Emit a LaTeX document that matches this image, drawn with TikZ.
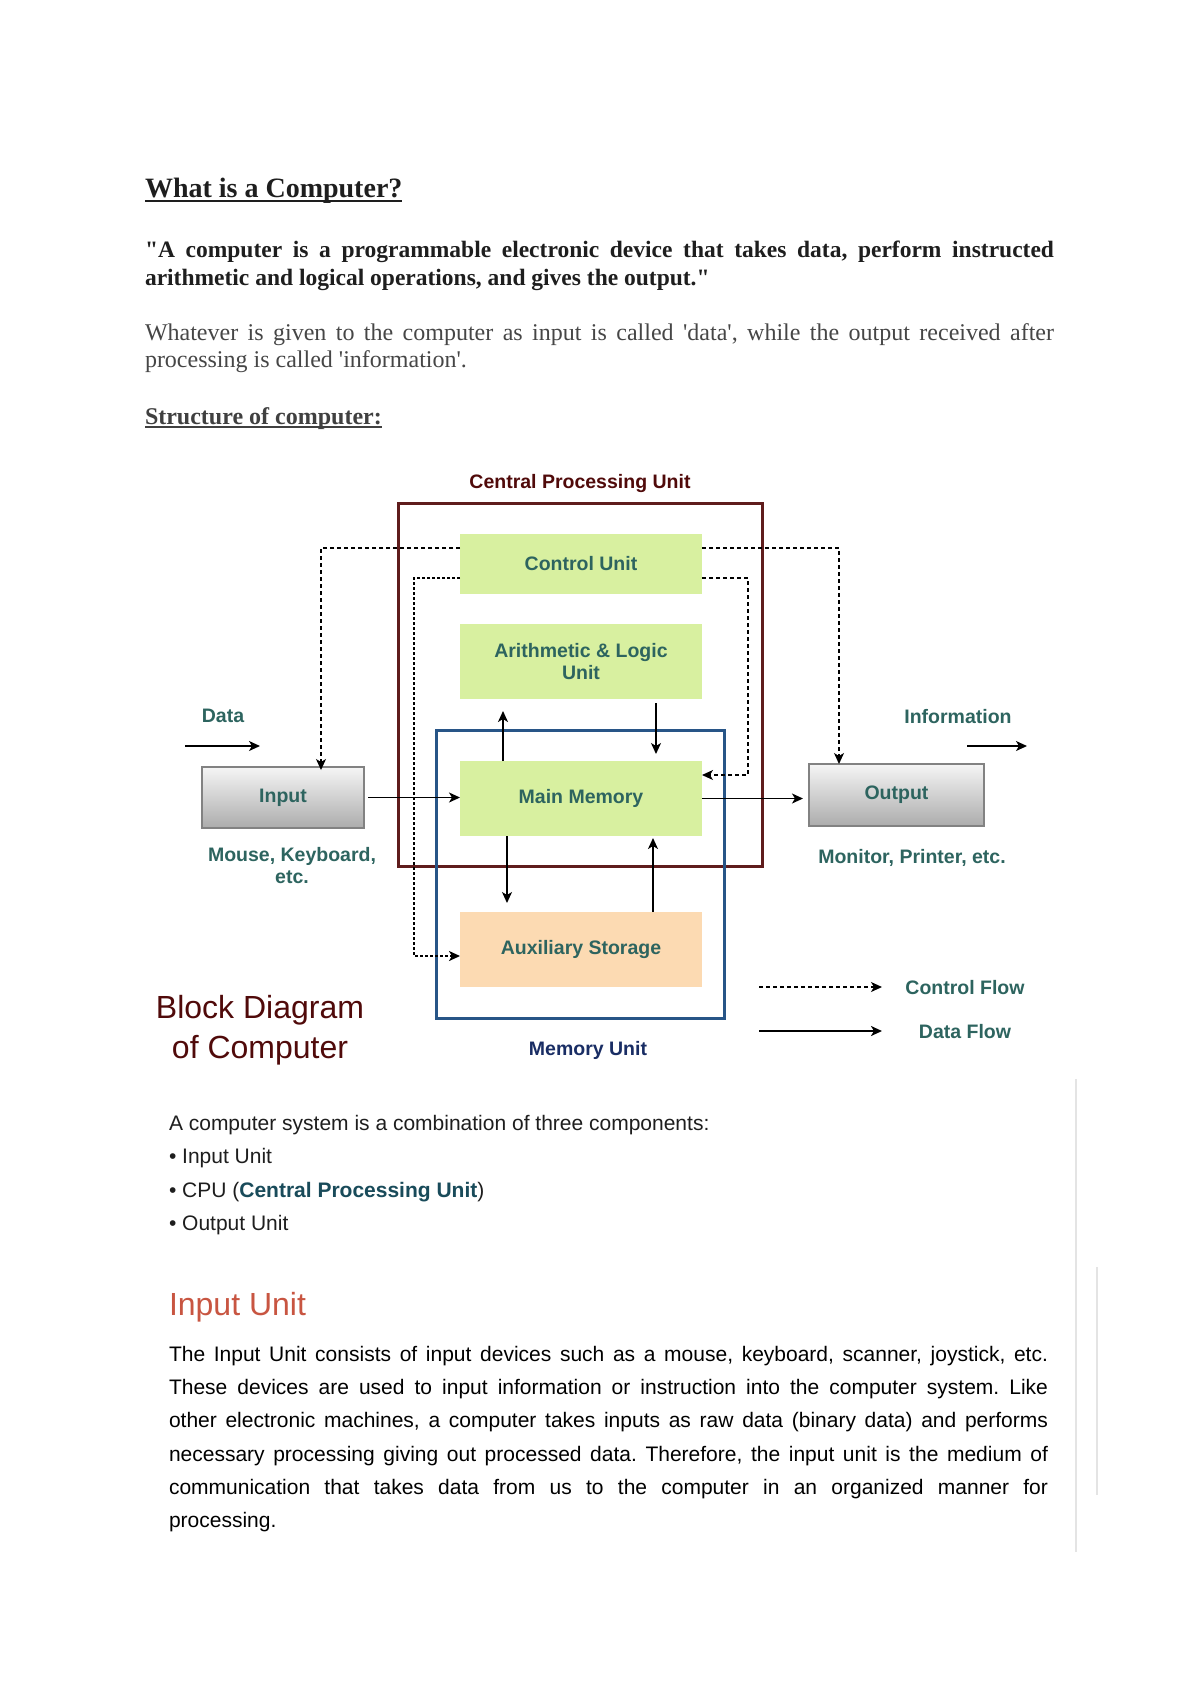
\documentclass[tikz,border=0pt]{standalone}
\usepackage{fontspec}
\setmainfont{Liberation Serif}
\newfontfamily\sansf{Liberation Sans}
\usetikzlibrary{arrows.meta,calc}
\definecolor{green1}{RGB}{216,240,160}
\definecolor{peach}{RGB}{252,218,178}
\definecolor{cpured}{RGB}{95,28,28}
\definecolor{memblue}{RGB}{40,85,135}
\definecolor{teal1}{RGB}{45,100,95}
\definecolor{navy}{RGB}{25,45,100}
\definecolor{bdred}{RGB}{80,10,10}
\definecolor{txtdark}{RGB}{30,30,30}
\definecolor{txtgray}{RGB}{70,70,70}
\definecolor{headred}{RGB}{200,85,65}
\definecolor{cpubold}{RGB}{25,75,90}
\definecolor{boxtop}{RGB}{245,245,245}
\definecolor{boxbot}{RGB}{172,172,172}
\definecolor{boxline}{RGB}{130,130,130}
\definecolor{faint}{RGB}{228,228,228}
\newcommand{\fs}[2]{\fontsize{#1pt}{#2pt}\selectfont}
\begin{document}
\frenchspacing
\begin{tikzpicture}[x=1pt,y=-1pt,
  txt/.style={anchor=base west, inner sep=0pt, outer sep=0pt},
  unitbox/.style={fill=green1, minimum width=242pt, minimum height=75pt, inner sep=0pt, outer sep=0pt,
    font=\sansf\bfseries\fs{19.5}{22}, text=teal1, align=center},
  iobox/.style={top color=boxtop, bottom color=boxbot, draw=boxline, line width=1.5pt,
    inner sep=0pt, outer sep=0pt, font=\sansf\bfseries\fs{19.5}{22}, text=teal1},
  lbl/.style={inner sep=0pt, outer sep=0pt, font=\sansf\bfseries\fs{19.5}{22}, text=teal1, align=center},
  flow/.style={-{Stealth[length=11pt,width=10pt,inset=3pt]}, line width=1.5pt, black},
  ctrl/.style={flow, line width=1.3pt, dash pattern=on 4pt off 3pt}]
\useasboundingbox (0,0) rectangle (1200,1698);
\fill[white] (0,0) rectangle (1200,1698);

% ---------- top text ----------
\node[txt, font=\bfseries\fs{28}{30}, text=txtdark] (title) at (145,197) {What is a Computer?};
\draw[line width=1.6pt, txtdark] ($(title.base west)+(0,4)$) -- ($(title.base east)+(0,4)$);

\node[txt, font=\bfseries\fs{23.5}{27}, text=txtdark] (q1) at (145,257)
  {\makebox[909pt][s]{\textquotedbl A computer is a programmable electronic device that takes data, perform instructed}};
\node[txt, font=\bfseries\fs{23.5}{27}, text=txtdark] (q2) at (145,285)
  {arithmetic and logical operations, and gives the output.\textquotedbl};

\node[txt, font=\fs{24}{27}, text=txtgray] (w1) at (145,340)
  {\makebox[909pt][s]{Whatever is given to the computer as input is called \textquotesingle data\textquotesingle, while the output received after}};
\node[txt, font=\fs{24}{27}, text=txtgray] (w2) at (145,367)
  {processing is called \textquotesingle information\textquotesingle.};

\node[txt, font=\bfseries\fs{24}{27}, text=txtdark!85] (st) at (145,424) {Structure of computer:};
\draw[line width=1.4pt, txtdark!85] ($(st.base west)+(0,3)$) -- ($(st.base east)+(0,3)$);

% ---------- diagram ----------
\node[draw=cpured, line width=3pt, minimum width=364pt, minimum height=363pt, inner sep=0pt, outer sep=0pt] (cpu) at (580,684.5) {};
\node[draw=memblue, line width=3pt, minimum width=288pt, minimum height=288pt, inner sep=0pt, outer sep=0pt] (mem) at (580,874) {};

\node[anchor=base, inner sep=0pt, font=\sansf\bfseries\fs{19.5}{22}, text=bdred] (cputitle) at (580,488) {Central Processing Unit};
\node[anchor=base, inner sep=0pt, font=\sansf\bfseries\fs{19.5}{22}, text=navy] (memtitle) at (588,1055) {Memory Unit};

\node[unitbox, minimum height=60pt] (cu) at (581,564) {Control Unit};
\node[unitbox] (alu) at (581,661.5) {Arithmetic \& Logic\\Unit};
\node[unitbox] (mm) at (581,798.5) {Main Memory};
\node[unitbox, fill=peach] (aux) at (581,949.5) {Auxiliary Storage};

\node[iobox, minimum width=162pt, minimum height=61pt] (inp) at (283,797.5) {Input};
\node[iobox, minimum width=175pt, minimum height=62pt] (outp) at (896.5,795) {Output};

\node[lbl, anchor=base] (datalbl) at (223,722) {Data};
\node[lbl, anchor=base] (infolbl) at (958,723) {Information};
\node[lbl] (inpdev) at (292,866) {Mouse, Keyboard,\\etc.};
\node[lbl, anchor=base] (outdev) at (912,863) {Monitor, Printer, etc.};
\node[lbl, anchor=base] (cflbl) at (965,994) {Control Flow};
\node[lbl, anchor=base] (dflbl) at (965,1038) {Data Flow};

\node[anchor=base, inner sep=0pt, font=\sansf\fs{32}{40}, text=bdred, align=center] (bd) at (260,1058) {Block Diagram\\of Computer};

% control flow (dashed)
\coordinate (c1) at (321,548);
\coordinate (c2) at (839,548);
\coordinate (c3) at (414,956);
\coordinate (c4) at (748,775);
\draw[ctrl] (cu.west |- c1) -| ([yshift=-3pt]c1 |- inp.north);
\draw[ctrl] (cu.east |- c2) -| (c2 |- outp.north);
\draw[ctrl, line width=1.8pt, dash pattern=on 3pt off 2pt] (cu.west |- 0,578) -| (c3) -- (aux.west |- c3);
\draw[ctrl] (cu.east |- 0,578) -| (c4) -- (mm.east |- c4);

% data flow (solid)
\draw[flow, shorten <=4pt] (inp.east) -- (mm.west |- inp.east);
\draw[flow, shorten >=6pt] (mm.east) -- (outp.west |- mm.east);
\draw[flow, shorten >=12pt] ($(mm.north west)+(43,0)$) -- ($(alu.south west)+(43,0)$);
\draw[flow, shorten <=4pt, shorten >=7pt] ($(alu.south west)+(196,0)$) -- ($(mm.north west)+(196,0)$);
\draw[flow, shorten >=9pt] ($(mm.south west)+(47,0)$) -- ($(aux.north west)+(47,0)$);
\draw[flow, shorten >=2pt] ($(aux.north west)+(193,0)$) -- ($(mm.south west)+(193,0)$);

% free arrows
\coordinate (d1) at (185,746); \coordinate (d2) at (260,746);
\coordinate (i1) at (967,746); \coordinate (i2) at (1027,746);
\draw[flow] (d1) -- (d2);
\draw[flow] (i1) -- (i2);

% legend
\coordinate (l1) at (759,987); \coordinate (l2) at (882,987);
\coordinate (l3) at (759,1031); \coordinate (l4) at (882,1031);
\draw[ctrl] (l1) -- (l2);
\draw[flow, line width=2pt] (l3) -- (l4);

% ---------- bottom text ----------
\node[txt, font=\sansf\fs{21}{24}, text=txtdark] (comb) at (169,1130) {A computer system is a combination of three components:};
\node[txt, font=\sansf\fs{21}{24}, text=txtdark] (b1) at (169,1163) {• Input Unit};
\node[txt, font=\sansf\fs{21}{24}, text=txtdark] (b2) at (169,1197) {• CPU ({\bfseries\color{cpubold}Central Processing Unit})};
\node[txt, font=\sansf\fs{21}{24}, text=txtdark] (b3) at (169,1230) {• Output Unit};

\node[txt, font=\sansf\fs{32}{36}, text=headred] (ih) at (169,1315) {Input Unit};

\node[txt, font=\sansf\fs{21}{24}, text=black] (p1) at (169,1361)
  {\makebox[879pt][s]{The Input Unit consists of input devices such as a mouse, keyboard, scanner, joystick, etc.}};
\node[txt, font=\sansf\fs{21}{24}, text=black] (p2) at (169,1394.3)
  {\makebox[879pt][s]{These devices are used to input information or instruction into the computer system. Like}};
\node[txt, font=\sansf\fs{21}{24}, text=black] (p3) at (169,1427.7)
  {\makebox[879pt][s]{other electronic machines, a computer takes inputs as raw data (binary data) and performs}};
\node[txt, font=\sansf\fs{21}{24}, text=black] (p4) at (169,1461)
  {\makebox[879pt][s]{necessary processing giving out processed data. Therefore, the input unit is the medium of}};
\node[txt, font=\sansf\fs{21}{24}, text=black] (p5) at (169,1494.3)
  {\makebox[879pt][s]{communication that takes data from us to the computer in an organized manner for}};
\node[txt, font=\sansf\fs{21}{24}, text=black] (p6) at (169,1527.7) {processing.};

% faint page edges
\draw[faint, line width=2pt] (1076,1079) -- (1076,1552);
\draw[faint, line width=2pt] (1097,1267) -- (1097,1495);
\end{tikzpicture}
\end{document}
